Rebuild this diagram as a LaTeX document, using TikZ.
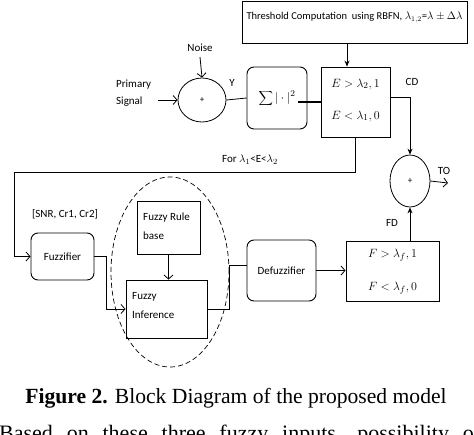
\documentclass[tikz,border=0pt]{standalone}
\usepackage{fontspec}
\setmainfont{Carlito}
\newfontfamily\capfont{Liberation Serif}
\usetikzlibrary{arrows.meta,shapes.geometric,calc}
\tikzset{
  box/.style={draw,line width=0.9pt,inner sep=0pt},
  rbox/.style={box,rounded corners=7pt},
  adder/.style={draw,line width=0.8pt,ellipse,inner sep=0pt},
  lbl/.style={font=\fontsize{11}{13}\selectfont,inner sep=0pt},
  conn/.style={line width=0.8pt},
  oarr/.style={conn,-{Straight Barb[length=4pt,width=9pt]}},
  farr/.style={conn,-{Stealth[length=6pt,width=5pt]}},
  mathtxt/.style={font=\fontsize{12.5}{14}\selectfont,inner sep=0pt},
}
\begin{document}
\begin{tikzpicture}[x=1pt,y=-1pt]
\clip (0,0) rectangle (474,434);
% boxes
\node[box,minimum width=225,minimum height=42,text height=7pt,text depth=12pt,
      font=\fontsize{10.5}{12}\selectfont] (thr) at (354.5,22)
  {Threshold Computation\ \ using RBFN, $\lambda_{1,2}$=$\lambda\pm\Delta\lambda$};
\node[adder,minimum width=48,minimum height=44] (add1) at (202,100) {\small +};
\node[rbox,minimum width=60,minimum height=62] (sum) at (277,98)
  {\fontsize{12.5}{14}\selectfont$\displaystyle\sum|\cdot|^2$\hspace{6pt}};
\node[box,minimum width=69,minimum height=70] (dec) at (355.5,102) {};
\node[mathtxt] (dec1) at (355.5,84) {$E>\lambda_2,1$};
\node[mathtxt] (dec2) at (355.5,116) {$E<\lambda_1,0$};
\node[adder,minimum width=40,minimum height=52] (add2) at (410,181) {\small +};
\node[rbox,minimum width=63,minimum height=47,lbl] (fuzz) at (62.5,256.5) {Fuzzifier};
\node[box,minimum width=63,minimum height=53] (rule) at (168.5,227.5) {};
\node[lbl,align=left,anchor=west] (ruletxt) at (143,226.5) {Fuzzy Rule\\[6pt]base};
\node[box,minimum width=81,minimum height=58] (inf) at (166.5,309) {};
\node[lbl,align=left,anchor=west] (inftxt) at (132,306) {Fuzzy\\[6pt]Inference};
\node[rbox,minimum width=69,minimum height=61,lbl] (defuz) at (281.5,270.5) {Defuzzifier};
\node[box,minimum width=93,minimum height=60] (fbox) at (392.5,271) {};
\node[mathtxt] (f1) at (392.5,255) {$F>\lambda_f,1$};
\node[mathtxt] (f2) at (392.5,288) {$F<\lambda_f,0$};
\node[draw,dashed,dash pattern=on 5pt off 3pt,ellipse,line width=0.7pt,
      minimum width=118,minimum height=190,inner sep=0pt] (grp) at (170,272) {};
% labels
\node[lbl] (noise) at (200,48) {Noise};
\node[lbl,align=left,anchor=west] (prim) at (116,93) {Primary\\[4pt]Signal};
\node[lbl] (ylab) at (232,83) {Y};
\node[lbl] (cd) at (412,82) {CD};
\node[lbl] (to) at (444,171) {TO};
\node[lbl] (for) at (250,160) {For $\lambda_1$<E<$\lambda_2$};
\node[lbl] (snr) at (65,214) {[SNR, Cr1, Cr2]};
\node[lbl] (fd) at (392,223) {FD};
% coordinates
\coordinate (psin) at (158,100);
\coordinate (nzin) at (200,57);
\coordinate (thrx) at (347,43);
\coordinate (toout) at (448,183);
\coordinate (c1) at (14,172);
\coordinate (c2) at (14,256.5);
\coordinate (fz1) at (106,256.5);
\coordinate (d1) at (229,265);
\coordinate (sumout) at (298,102);
% connectors
\draw[oarr] (psin) -- (add1.west);
\draw[oarr] (nzin) -- (add1.north);
\draw[conn] (add1.east) -- (sum.west);
\draw[conn,line width=1.1pt] (sumout) -- (sumout -| dec.west);
\draw[farr] (thrx) -- (thrx |- dec.north);
\draw[farr] ([yshift=5pt]dec.east) -| (add2.north);
\draw[oarr] (add2.east) -- (toout);
\draw[oarr] (dec.south) |- (c1) -- (c2) -- (fuzz.west);
\draw[oarr] (fuzz.east) -- (fz1) |- (inf.west);
\draw[oarr] (rule.south) -- (inf.north -| rule.south);
\draw[conn] (inf.east) -| (d1) -- (d1 -| defuz.west);
\draw[oarr] (defuz.east) -- (defuz.east -| fbox.west);
\draw[farr] (add2.south |- fbox.north) -- (add2.south);
% caption
\node[font=\capfont\fontsize{21.6}{24}\selectfont,inner sep=0pt,anchor=base] (cap) at (236,403)
  {\textbf{Figure 2.} Block Diagram of the proposed model};
\node[font=\capfont\fontsize{22}{24}\selectfont,inner sep=0pt,anchor=base west] (body) at (-1,440)
  {\makebox[482pt][s]{Based on these three fuzzy inputs, possibility of}};
\end{tikzpicture}
\end{document}
